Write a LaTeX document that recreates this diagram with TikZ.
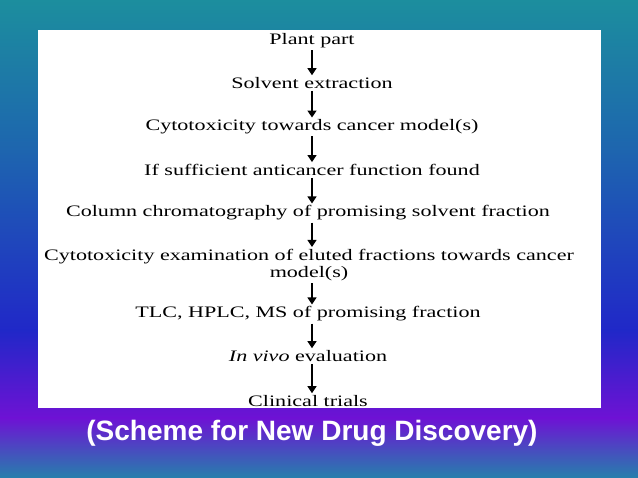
\documentclass[tikz,border=0pt]{standalone}
\usepackage{fontspec}
\setmainfont{Liberation Serif}[FakeStretch=1.38]
\newfontfamily\captionfont{Liberation Sans}
\usetikzlibrary{arrows.meta}

\begin{document}
\begin{tikzpicture}[x=1pt, y=-1pt,
    stage/.style={font=\fontsize{16}{17}\selectfont, text=black, align=center, inner sep=1pt},
    flow/.style={-{Triangle[length=7pt, width=9pt]}, line width=1.3pt, black, shorten >=1pt, shorten <=1pt}
]
\definecolor{bgteal}{RGB}{28,142,158}
\definecolor{bgblue}{RGB}{32,40,200}
\definecolor{bgpurple}{RGB}{110,18,212}
\definecolor{bgbottom}{RGB}{38,128,172}

\useasboundingbox (0,0) rectangle (638,478);

% slide background
\shade[top color=bgteal, bottom color=bgteal!60!bgblue] (0,0) rectangle (638,150);
\shade[top color=bgteal!60!bgblue, bottom color=bgblue] (0,150) rectangle (638,330);
\shade[top color=bgblue, bottom color=bgpurple] (0,330) rectangle (638,418);
\shade[top color=bgpurple, bottom color=bgbottom] (0,418) rectangle (638,478);

% white panel
\fill[white] (38,30) rectangle (601,408);

% scheme stages
\node[stage] (plant)   at (312,41)  {Plant part};
\node[stage] (solvent) at (312,83)  {Solvent extraction};
\node[stage] (cyto)    at (312,127) {Cytotoxicity towards cancer model(s)};
\node[stage] (found)   at (312,170) {If sufficient anticancer function found};
\node[stage] (column)  at (308,213) {Column chromatography of promising solvent fraction};
\node[stage] (eluted)  at (309,265) {Cytotoxicity examination of eluted fractions towards cancer\\model(s)};
\node[stage] (tlc)     at (308,314) {TLC, HPLC, MS of promising fraction};
\node[stage] (vivo)    at (308,356) {\textit{In vivo} evaluation};
\node[stage] (trials)  at (308,401) {Clinical trials};

\draw[flow] (plant.south -| 312,0)   -- (solvent.north -| 312,0);
\draw[flow] (solvent.south -| 312,0) -- (cyto.north -| 312,0);
\draw[flow] (cyto.south -| 312,0)    -- (found.north -| 312,0);
\draw[flow] (found.south -| 312,0)   -- (column.north -| 312,0);
\draw[flow] (column.south -| 312,0)  -- (eluted.north -| 312,0);
\draw[flow] (eluted.south -| 312,0)  -- (tlc.north -| 312,0);
\draw[flow] (tlc.south -| 312,0)     -- (vivo.north -| 312,0);
\draw[flow] (vivo.south -| 312,0)    -- (trials.north -| 312,0);

% caption
\node[font=\captionfont\bfseries\fontsize{28}{32}\selectfont, text=white] (caption) at (312,433) {(Scheme for New Drug Discovery)};
\end{tikzpicture}
\end{document}
